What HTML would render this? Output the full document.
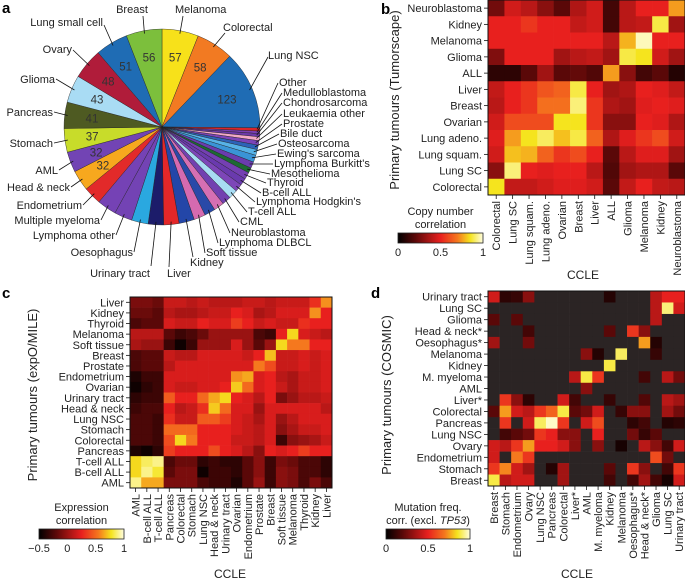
<!DOCTYPE html>
<html><head><meta charset="utf-8">
<style>
html,body{margin:0;padding:0;background:#fff;}
svg{display:block;font-family:"Liberation Sans",sans-serif;}
</style></head>
<body>
<svg id="fig" width="685" height="582" viewBox="0 0 685 582" xmlns="http://www.w3.org/2000/svg">
<defs>
<linearGradient id="hot" x1="0" x2="1" y1="0" y2="0">
<stop offset="0" stop-color="#000"/><stop offset="0.2" stop-color="#5a0808"/><stop offset="0.5" stop-color="#e8201e"/><stop offset="0.7" stop-color="#f5781e"/><stop offset="0.85" stop-color="#f5e41e"/><stop offset="1" stop-color="#fffde1"/>
</linearGradient>
</defs>
<g font-weight="bold" font-size="15">
<text x="2" y="13">a</text>
<text x="381" y="14">b</text>
<text x="2" y="298">c</text>
<text x="371" y="298">d</text>
</g>
<g id="pie"></g>
<g id="hb"></g>
<g id="hc"></g>
<g id="hd"></g>
</svg>
<script>
// ---------- Pie data (clockwise from 12 o'clock) ----------
const pieLabels = ["Melanoma","Colorectal","Lung NSC","Other","Medulloblastoma","Chondrosarcoma","Leukaemia other","Prostate","Bile duct","Osteosarcoma","Ewing's sarcoma","Lymphoma Burkitt's","Mesothelioma","Thyroid","B-cell ALL","Lymphoma Hodgkin's","T-cell ALL","CML","Neuroblastoma","Lymphoma DLBCL","Soft tissue","Kidney","Liver","Urinary tract","Oesophagus","Lymphoma other","Multiple myeloma","Endometrium","Head & neck","AML","Stomach","Pancreas","Glioma","Ovary","Lung small cell","Breast"];
const pieValues = [57,58,123,5,4,5,6,7,7,9,11,10,8,11,11,12,14,14,16,17,18,24,24,24,26,28,30,28,32,32,37,41,43,48,51,56];
const pieShown = [57,58,123,null,null,null,null,null,null,null,null,null,null,null,null,null,null,null,null,null,null,null,null,null,null,null,null,null,32,32,37,41,43,48,51,56];
const pieColors = ["#f7e11a","#f27a22","#1f6cb4","#d9262a","#7a3fb5","#6c3aa8","#f2a9c6","#7b44b8","#2d63b8","#57b2e6","#3a94d6","#6a3cae","#1d6a33","#7440b2","#6a3aae","#7d46b8","#a8dcf3","#7240b0","#d66fb3","#2a49a8","#d56ab0","#2346a8","#e32729","#1c1c6a","#2aa8e0","#7343b4","#7542b5","#e22a2a","#f7a81e","#7244b4","#c8dc2a","#4e5a22","#a9dcf4","#b01c3a","#1f6cb4","#7cbf3c"];
// label layout: [textX, textY, anchor, lineStartX, lineStartY]
const pieLayout = [[175,13,"start",183,16],[223,31,"start",225,33],[268,59,"start",268,57],[279,86,"start",278,83],[283,96,"start",282,93],[283,106,"start",282,103],[283,117,"start",282,114],[283,127,"start",282,124],[280,137,"start",279,134],[278,147,"start",277,144],[277,157,"start",276,154],[274,167,"start",273,164],[271,177,"start",270,174],[267,186,"start",266,183],[262,196,"start",261,193],[256,205,"start",255,202],[248,215,"start",247,212],[240,225,"start",239,222],[231,236,"start",230,233],[219,246,"start",218,243],[206,256,"start",205,253],[190,266,"start",193,257],[167,277,"start",169,267],[150,277,"end",151,266],[133,256,"end",134,252],[115,239,"end",116,235],[100,224,"end",101,220],[82,209,"end",83,205],[70,191,"end",71,187],[58,174,"end",59,170],[53,147,"end",54,143],[53,116,"end",54,112],[55,83,"end",56,79],[72,53,"end",73,50],[103,26,"end",104,25],[132,13,"middle",143,16]];

// ---------- Heatmap b ----------
const bRows = ["Neuroblastoma","Kidney","Melanoma","Glioma","ALL","Liver","Breast","Ovarian","Lung adeno.","Lung squam.","Lung SC","Colorectal"];
const bCols = ["Colorectal","Lung SC","Lung squam.","Lung adeno.","Ovarian","Breast","Liver","ALL","Glioma","Melanoma","Kidney","Neuroblastoma"];
const bVals = [
[.25,.45,.4,.3,.2,.38,.45,.15,.4,.5,.5,.75],
[.5,.5,.55,.5,.5,.42,.45,.15,.4,.42,.88,.35],
[.5,.5,.5,.5,.5,.5,.5,.4,.78,.97,.5,.5],
[.28,.5,.5,.5,.35,.4,.42,.35,.88,.85,.45,.35],
[.1,.1,.2,.35,.2,.22,.18,.75,.3,.15,.2,.08],
[.42,.5,.55,.62,.65,.88,.5,.35,.38,.5,.48,.42],
[.4,.5,.55,.68,.68,.92,.55,.38,.35,.48,.5,.48],
[.45,.6,.6,.6,.85,.85,.55,.3,.3,.5,.48,.38],
[.48,.75,.85,.9,.8,.88,.65,.38,.48,.55,.6,.45],
[.45,.8,.78,.65,.55,.6,.5,.2,.4,.48,.48,.35],
[.3,.92,.5,.48,.5,.5,.4,.18,.35,.38,.38,.2],
[.85,.42,.42,.45,.48,.48,.45,.2,.42,.5,.42,.4]];
const bTicks = ["0","0.5","1"];

// ---------- Heatmap c ----------
const cRows = ["Liver","Kidney","Thyroid","Melanoma","Soft tissue","Breast","Prostate","Endometrium","Ovarian","Urinary tract","Head & neck","Lung NSC","Stomach","Colorectal","Pancreas","T-cell ALL","B-cell ALL","AML"];
const cCols = ["AML","B-cell ALL","T-cell ALL","Pancreas","Colorectal","Stomach","Lung NSC","Head & neck","Urinary tract","Ovarian","Endometrium","Prostate","Breast","Soft tissue","Melanoma","Thyroid","Kidney","Liver"];
const cVals = [
[-.1,-.1,-.15,.15,.15,.1,.15,.1,.1,.1,.15,.15,.1,.15,.15,.15,.3,.6],
[-.15,-.15,-.2,.1,.05,.05,.1,.15,.15,.25,.2,.05,.1,.2,.2,.2,.6,.25],
[-.25,-.2,-.2,.2,.15,.15,.25,.2,.2,.35,.25,.15,.2,.15,.15,.3,.25,.25],
[.1,.1,.1,-.2,-.3,-.25,-.15,0,0,0,0,-.25,-.3,.25,.75,.2,.15,.1],
[.05,0,0,-.3,-.45,-.3,0,0,0,.2,0,-.2,0,.75,.55,.55,.25,.25],
[-.25,-.2,-.2,.15,.1,.1,.2,.2,.2,.2,.15,.25,.7,.15,.15,.2,.15,.2],
[-.25,-.2,-.2,.1,.2,.2,.2,.2,.2,.2,.2,.55,.4,.15,.15,.2,.15,.2],
[-.4,-.3,-.3,.2,.2,.2,.2,.2,.2,.6,.65,.2,.25,.1,.05,.15,.15,.2],
[-.45,-.35,-.3,.2,.15,.15,.2,.2,.25,.72,.5,.2,.25,.15,.05,.15,.15,.2],
[-.35,-.3,-.3,.45,.25,.25,.5,.65,.75,.25,.2,.1,.25,-.1,0,.1,.1,.15],
[-.3,-.25,-.25,.25,.1,.15,.3,.72,.5,.2,.2,0,.2,.2,.2,.2,.2,.1],
[-.25,-.25,-.3,.3,.15,.15,.45,.45,.35,.2,.15,.05,.2,0,.1,.2,.2,.2],
[-.25,-.25,-.3,.5,.5,.5,.25,.25,.25,.2,.15,.1,.2,-.05,.05,.15,.15,.2],
[-.25,-.25,-.3,.4,.75,.55,.25,.25,.25,.15,.15,.1,.2,-.3,-.05,0,.05,.15],
[-.4,-.45,-.35,.35,.25,.25,.25,.4,.25,.2,.1,-.05,.25,.2,.25,.35,.25,.25],
[.75,.85,.9,-.25,-.15,-.15,-.35,-.3,-.35,-.35,-.2,-.05,-.3,-.1,-.15,-.25,-.25,-.35],
[.75,.9,.8,-.2,-.1,-.1,-.45,-.3,-.3,-.35,-.2,-.05,-.3,-.05,-.1,-.25,-.25,-.35],
[.9,.65,.65,-.1,-.1,-.1,-.25,-.3,-.3,-.4,-.2,0,-.3,-.05,-.1,-.25,-.1,-.25]];
const cTicks = ["\u22120.5","0","0.5","1"];

// ---------- Heatmap d ----------
const dRows = ["Urinary tract","Lung SC","Glioma","Head & neck*","Oesophagus*","Melanoma","Kidney","M. myeloma","AML","Liver*","Colorectal","Pancreas","Lung NSC","Ovary","Endometrium","Stomach","Breast"];
const dCols = ["Breast","Stomach","Endometrium","Ovary","Lung NSC","Pancreas","Colorectal","Liver*","AML","M. myeloma","Kidney","Melanoma","Oesophagus*","Head & neck*","Glioma","Lung SC","Urinary tract"];
const dVals = [
[.45,.1,.12,.3,0,0,0,0,0,0,.08,0,0,0,.4,.5,.5],
[0,0,0,0,0,0,0,0,0,0,0,0,0,0,.4,.92,.45],
[.2,0,.2,0,0,0,0,0,0,0,0,0,0,0,.4,0,0],
[0,0,0,.15,0,0,0,0,0,0,.2,0,.55,.3,0,0,0],
[.35,0,0,.25,0,0,0,0,0,0,0,0,0,.75,.08,0,0],
[0,0,0,0,0,0,0,0,.3,.08,0,.9,0,0,.12,0,0],
[0,0,0,0,0,0,0,0,0,0,.88,0,0,0,0,0,0],
[0,0,0,0,0,0,0,.4,.88,.55,0,0,0,.15,0,.4,.25],
[0,0,0,0,0,0,0,0,.3,0,0,0,0,0,0,0,0],
[0,.55,.3,.1,0,0,.45,.15,0,0,.12,0,0,.18,0,.4,.35],
[.2,.75,.45,.4,.55,.65,.88,.2,.25,.45,0,.12,.3,.3,0,.35,.25],
[0,.55,0,.45,.9,.98,.55,0,.45,.6,0,0,.1,.15,0,.08,.1],
[0,.15,.2,.25,.55,.5,.3,.3,0,.5,0,0,.25,.12,.2,0,0],
[.45,.4,.55,.75,.5,.5,.45,.3,0,.3,0,.05,0,.4,.3,.15,.45],
[.45,0,.7,.55,0,0,0,0,0,0,0,0,0,0,.6,.25,0],
[.55,.72,.45,.35,0,.08,.35,0,0,0,.2,0,.55,.3,0,.15,.55],
[.88,.4,.45,.45,0,0,.35,0,0,0,.15,0,.15,.35,.15,.05,.45]];
const dTicks = ["0","0.5","1"];

const NS = "http://www.w3.org/2000/svg";
function el(tag, parent, attrs){ const e=document.createElementNS(NS,tag); for(const k in attrs) e.setAttribute(k,attrs[k]); parent.appendChild(e); return e; }
const stops=[[0,[0,0,0]],[0.2,[90,8,8]],[0.5,[232,32,30]],[0.7,[245,120,30]],[0.85,[245,228,30]],[1,[255,253,225]]];
function hot(t){ t=Math.max(0,Math.min(1,t)); for(let i=1;i<stops.length;i++){ if(t<=stops[i][0]){ const a=stops[i-1],b=stops[i]; const f=(t-a[0])/(b[0]-a[0]); const c=a[1].map((v,k)=>Math.round(v+(b[1][k]-v)*f)); return `rgb(${c[0]},${c[1]},${c[2]})`; } } return "rgb(255,253,225)"; }

// ---------- Pie ----------
(function(){
  const g=document.getElementById('pie'); const cx=162, cy=127, r=98;
  const total=pieValues.reduce((a,b)=>a+b,0);
  let acc=0;
  pieValues.forEach((v,i)=>{
    const a0=acc/total*2*Math.PI-Math.PI/2; acc+=v; const a1=acc/total*2*Math.PI-Math.PI/2;
    const x0=cx+r*Math.cos(a0), y0=cy+r*Math.sin(a0), x1=cx+r*Math.cos(a1), y1=cy+r*Math.sin(a1);
    const large=(a1-a0)>Math.PI?1:0;
    const p=el('path',g,{d:`M${cx},${cy}L${x0},${y0}A${r},${r} 0 ${large} 1 ${x1},${y1}Z`,fill:pieColors[i],stroke:"#222","stroke-width":0.4});
    
    
    const am=(a0+a1)/2;
    if(pieShown[i]!==null){
      const t=el('text',g,{x:cx+0.72*r*Math.cos(am),y:cy+0.72*r*Math.sin(am)+4,"text-anchor":"middle","font-size":"11.5",fill:"#333"});
      t.textContent=pieShown[i];
      
      
    }
    const L=pieLayout[i];
    const ln=el('line',g,{x1:L[3],y1:L[4],x2:cx+r*0.97*Math.cos(am),y2:cy+r*0.97*Math.sin(am),stroke:"#111","stroke-width":0.8});
    
    
    const lt=el('text',g,{x:L[0],y:L[1],"text-anchor":L[2],"font-size":"11",fill:"#222"});
    lt.textContent=pieLabels[i];
    
    
  });
})();

// ---------- Heatmaps ----------
function heat(id,o){
  const g=document.getElementById(id);
  const nr=o.rows.length, nc=o.cols.length, cw=o.w/nc, ch=o.h/nr;
  const xs=j=>o.x+j*cw, ys=i=>o.y+i*ch;
  const tn=v=>(v-o.min)/(o.max-o.min);
  o.vals.forEach((row,i)=>row.forEach((v,j)=>{
    const fill=(o.bg && v<=0)?o.bg:hot(tn(v));
    const c=el('rect',g,{x:xs(j),y:ys(i),width:cw+0.3,height:ch+0.3,fill:fill});
    
    
  }));
  const fr=el('rect',g,{x:o.x,y:o.y,width:o.w,height:o.h,fill:"none",stroke:"#111","stroke-width":1});
  
  
  o.rows.forEach((n,i)=>{
    const yy=ys(i)+ch/2;
    el('line',g,{x1:o.x-4,x2:o.x,y1:yy,y2:yy,stroke:"#111","stroke-width":0.8});
    const t=el('text',g,{x:o.x-6,y:yy+4,"text-anchor":"end","font-size":"11",fill:"#222"});
    t.textContent=n;
    
    
  });
  o.cols.forEach((n,j)=>{
    const xx=xs(j)+cw/2;
    el('line',g,{x1:xx,x2:xx,y1:o.y+o.h,y2:o.y+o.h+4,stroke:"#111","stroke-width":0.8});
    const t=el('text',g,{transform:`translate(${xx+4},${o.y+o.h+6}) rotate(-90)`,"text-anchor":"end","font-size":"11",fill:"#222"});
    t.textContent=n;
    
    
  });
  const xt=el('text',g,{x:o.xt[0],y:o.xt[1],"text-anchor":"middle","font-size":"12",fill:"#222"}); xt.textContent="CCLE";
  
  
  const yt=el('text',g,{transform:`translate(${o.yt[0]},${o.yt[1]}) rotate(-90)`,"text-anchor":"middle","font-size":"13",fill:"#222"}); yt.textContent=o.ytitle;
  
  
  // colorbar
  const cb=o.cb;
  const r=el('rect',g,{x:cb.x,y:cb.y,width:cb.w,height:10,fill:"url(#hot)",stroke:"#222","stroke-width":0.8});
  
  
  cb.ticks.forEach((tk,k)=>{
    const t=el('text',g,{x:cb.x+cb.w*k/(cb.ticks.length-1),y:cb.y+23,"text-anchor":"middle","font-size":"11",fill:"#222"});
    t.textContent=tk;
    
    
  });
  cb.title.forEach((s,k)=>{
    const t=el('text',g,{x:cb.x+cb.w/2,y:cb.y-18+k*13,"text-anchor":"middle","font-size":"11",fill:"#222"});
    t.innerHTML=s;
    
    
  });
}
heat('hb',{x:488,y:0,w:197,h:195,rows:bRows,cols:bCols,vals:bVals,min:0,max:1,xt:[583,279],yt:[399,100],ytitle:"Primary tumours (Tumorscape)",cb:{x:398,y:233,w:85,ticks:bTicks,title:["Copy number","correlation"]}});
heat('hc',{x:130,y:297,w:202,h:191,rows:cRows,cols:cCols,vals:cVals,min:-0.5,max:1,xt:[230,578],yt:[37,395],ytitle:"Primary tumours (expO/MILE)",cb:{x:39,y:529,w:85,ticks:cTicks,title:["Expression","correlation"]}});
heat('hd',{x:488,y:291,w:197,h:195,rows:dRows,cols:dCols,vals:dVals,min:0,max:1,bg:"#2b2424",xt:[577,578],yt:[391,395],ytitle:"Primary tumours (COSMIC)",cb:{x:386,y:529,w:84,ticks:dTicks,title:["Mutation freq.","corr. (excl. <tspan font-style='italic'>TP53</tspan>)"]}});
</script>
</body></html>
